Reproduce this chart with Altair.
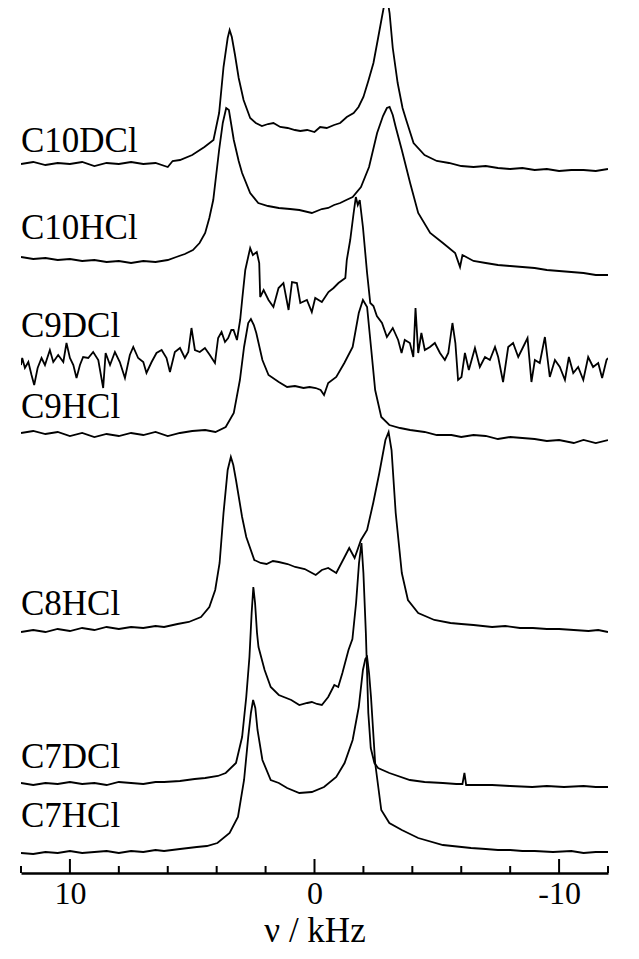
import altair as alt
import pandas as pd

# ---- spectra: frequency (kHz) and stacked intensity (arb. units) ----
C10DCl_x = [12.0, 11.5, 11.0, 10.5, 10.0, 9.5, 9.0, 8.5, 8.0, 7.5,
            7.0, 6.5, 6.0, 5.8, 5.5, 5.0, 4.5, 4.13, 3.9, 3.72,
            3.55, 3.47, 3.38, 3.25, 3.1, 2.9, 2.63, 2.4, 2.15, 1.9,
            1.68, 1.4, 1.1, 0.8, 0.58, 0.3, 0.0, -0.23, -0.5, -0.8,
            -1.05, -1.32, -1.6, -1.8, -2.0, -2.2, -2.41, -2.6, -2.75, -2.85,
            -2.95, -3.07, -3.2, -3.4, -3.6, -3.75, -4.05, -4.5, -5.0, -5.5,
            -6.0, -6.5, -7.0, -7.5, -8.0, -8.5, -9.0, -9.5, -10.0, -10.5,
            -11.0, -11.5, -12.0]
C10DCl_y = [709, 711, 708, 710, 709, 711, 707, 710, 709, 711,
            709, 710, 706, 712, 713, 718, 726, 733, 760, 806,
            835, 843, 836, 818, 795, 773, 755, 750, 747, 749,
            750, 746, 745, 743, 742, 743, 741, 746, 745, 748,
            750, 756, 760, 766, 776, 792, 810, 835, 855, 868,
            878, 860, 825, 790, 765, 753, 730, 718, 712, 710,
            707, 706, 707, 705, 704, 705, 703, 704, 702, 703,
            703, 702, 704]

C10HCl_x = [12.0, 11.5, 11.0, 10.5, 10.0, 9.5, 9.0, 8.5, 8.0, 7.5,
            7.0, 6.5, 6.0, 5.65, 5.3, 4.97, 4.7, 4.47, 4.3, 4.14,
            3.9, 3.75, 3.61, 3.5, 3.4, 3.3, 3.1, 2.96, 2.63, 2.3,
            1.9, 1.46, 1.0, 0.62, 0.11, -0.3, -0.56, -0.8, -1.05, -1.3,
            -1.56, -1.9, -2.23, -2.56, -2.8, -2.96, -3.07, -3.2, -3.32, -3.57,
            -3.91, -4.24, -4.73, -5.25, -5.75, -5.95, -6.05, -6.5, -7.0, -7.5,
            -8.0, -8.5, -9.0, -9.5, -10.0, -10.5, -11.0, -11.5, -12.0]
C10HCl_y = [616, 614, 615, 613, 614, 612, 613, 611, 612, 610,
            612, 611, 613, 616, 619, 623, 630, 640, 655, 673,
            723, 750, 765, 763, 748, 733, 712, 700, 680, 670,
            667, 665, 664, 663, 660, 664, 665, 668, 670, 673,
            676, 686, 706, 740, 757, 765, 766, 758, 746, 723,
            690, 660, 640, 630, 620, 606, 618, 612, 610, 608,
            607, 606, 605, 603, 602, 601, 600, 598, 598]

C9DCl_x_left = [12.0, 11.95, 11.84, 11.7, 11.57, 11.46, 11.32, 11.16, 11.02, 10.82,
                10.68, 10.48, 10.27, 10.14, 10.0, 9.86, 9.73, 9.59, 9.46, 9.25,
                9.05, 8.84, 8.64, 8.54, 8.36, 8.16, 7.96, 7.75, 7.55, 7.41,
                7.21, 7.0, 6.87, 6.66, 6.46, 6.25, 6.05, 5.91, 5.71, 5.5,
                5.3, 5.16, 5.03, 4.89, 4.69, 4.48, 4.28, 4.07, 3.94, 3.8,
                3.66, 3.53, 3.4, 3.31, 3.17, 3.04, 2.95, 2.83]
C9DCl_y_left = [508, 515, 505, 511, 498, 488, 505, 515, 508, 523,
                511, 518, 511, 530, 515, 508, 495, 508, 516, 515,
                521, 513, 485, 520, 508, 521, 511, 495, 518, 526,
                515, 511, 500, 511, 520, 523, 515, 501, 521, 525,
                515, 521, 545, 523, 521, 525, 518, 510, 535, 541,
                531, 535, 543, 543, 533, 553, 575, 603]
C9DCl_x_mid = [2.63, 2.52, 2.36, 2.26, 2.22, 2.08, 1.88, 1.68, 1.47, 1.27,
               1.06, 0.92, 0.72, 0.58, 0.31, 0.11, -0.03, -0.3, -0.57, -0.78,
               -0.98, -1.26, -1.32, -1.46, -1.6, -1.69, -1.77, -1.85, -1.98, -2.15,
               -2.28, -2.41, -2.55, -2.76, -2.96, -3.2]
C9DCl_y_mid = [625, 618, 621, 610, 576, 583, 573, 566, 585, 590,
               563, 591, 590, 570, 573, 561, 575, 571, 581, 585,
               590, 595, 613, 633, 660, 676, 668, 673, 646, 600,
               570, 567, 557, 550, 536, 545]
C9DCl_x_right = [-3.42, -3.56, -3.69, -3.9, -4.04, -4.13, -4.24, -4.37, -4.51, -4.72,
                 -4.92, -5.13, -5.33, -5.47, -5.64, -5.76, -5.87, -6.01, -6.15, -6.31,
                 -6.56, -6.76, -6.97, -7.17, -7.38, -7.51, -7.71, -7.92, -8.12, -8.33,
                 -8.53, -8.71, -8.87, -9.01, -9.21, -9.42, -9.62, -9.83, -10.03, -10.24,
                 -10.4, -10.58, -10.78, -10.99, -11.19, -11.39, -11.6, -11.76, -11.94, -12.0]
C9DCl_y_right = [533, 520, 533, 530, 516, 565, 520, 540, 523, 526,
                 530, 520, 513, 520, 550, 530, 493, 496, 520, 503,
                 525, 506, 516, 513, 526, 516, 491, 526, 530, 516,
                 526, 535, 491, 513, 510, 536, 496, 513, 506, 493,
                 516, 500, 506, 493, 516, 506, 510, 495, 513, 515]
C9DCl_x = C9DCl_x_left + C9DCl_x_mid + C9DCl_x_right
C9DCl_y = C9DCl_y_left + C9DCl_y_mid + C9DCl_y_right

C9HCl_x = [12.0, 11.5, 11.0, 10.5, 10.0, 9.5, 9.0, 8.5, 8.0, 7.5,
           7.0, 6.5, 6.0, 5.5, 5.0, 4.47, 4.05, 3.63, 3.30, 3.05,
           2.88, 2.71, 2.6, 2.48, 2.38, 2.13, 1.88, 1.46, 1.12, 0.8,
           0.45, 0.2, -0.05, -0.25, -0.39, -0.56, -0.89, -1.22, -1.56, -1.81,
           -1.98, -2.15, -2.31, -2.48, -2.73, -3.06, -3.5, -3.91, -4.5, -5.0,
           -5.6, -6.0, -6.5, -7.0, -7.5, -8.0, -8.5, -9.0, -9.5, -10.0,
           -10.6, -11.0, -11.5, -12.0]
C9HCl_y = [440, 442, 439, 441, 437, 440, 436, 439, 437, 440,
           438, 441, 437, 440, 442, 443, 441, 446, 460, 493,
           526, 550, 554, 548, 540, 513, 498, 491, 486, 487,
           485, 486, 485, 483, 478, 490, 496, 510, 526, 560,
           573, 566, 526, 483, 456, 448, 445, 443, 441, 438,
           438, 436, 438, 437, 434, 436, 435, 434, 432, 433,
           430, 433, 430, 433]

C8HCl_x = [12.0, 11.5, 11.0, 10.5, 10.0, 9.5, 9.0, 8.5, 8.0, 7.5,
           7.0, 6.5, 6.15, 5.6, 5.14, 4.64, 4.3, 4.06, 3.88, 3.72,
           3.55, 3.42, 3.32, 3.21, 2.96, 2.79, 2.46, 2.2, 1.96, 1.7,
           1.46, 1.1, 0.79, 0.4, 0.1, -0.05, -0.3, -0.56, -0.89, -1.23,
           -1.42, -1.64, -1.9, -2.15, -2.4, -2.65, -2.9, -3.03, -3.15, -3.32,
           -3.57, -3.82, -4.24, -4.9, -5.56, -6.0, -6.5, -7.26, -7.8, -8.4,
           -8.93, -9.5, -10.0, -10.6, -11.2, -11.6, -12.0]
C8HCl_y = [241, 243, 241, 244, 242, 245, 243, 246, 244, 246,
           245, 247, 246, 249, 251, 256, 266, 283, 310, 360,
           403, 416, 408, 393, 356, 336, 313, 310, 309, 312,
           311, 309, 306, 304, 300, 298, 303, 305, 300, 316,
           325, 315, 333, 343, 370, 400, 433, 441, 423, 360,
           300, 273, 260, 253, 250, 249, 248, 246, 247, 245,
           245, 244, 244, 243, 242, 243, 241]

C7DCl_x = [12.0, 11.5, 11.0, 10.5, 10.0, 9.5, 9.0, 8.5, 8.0, 7.5,
           7.0, 6.5, 6.15, 5.5, 4.9, 4.47, 3.95, 3.63, 3.21, 2.96,
           2.79, 2.66, 2.57, 2.5, 2.43, 2.35, 2.29, 2.04, 1.79, 1.46,
           0.95, 0.62, 0.3, 0.11, -0.1, -0.3, -0.56, -0.81, -0.97, -1.14,
           -1.39, -1.55, -1.7, -1.82, -1.92, -2.0, -2.1, -2.2, -2.3, -2.45,
           -2.6, -3.06, -3.9, -4.5, -5.25, -5.8, -6.05, -6.13, -6.2, -6.6,
           -7.26, -8.0, -8.9, -9.5, -10.2, -11.0, -11.5, -12.0]
C7DCl_y = [90, 88, 90, 89, 91, 89, 90, 88, 91, 90,
           89, 91, 91, 92, 94, 95, 97, 100, 110, 136,
           176, 216, 260, 286, 270, 240, 226, 203, 186, 178,
           173, 168, 170, 171, 169, 168, 176, 188, 186, 200,
           223, 234, 270, 310, 330, 300, 240, 160, 125, 110,
           105, 100, 93, 91, 90, 89, 89, 100, 88, 88,
           88, 87, 86, 87, 86, 87, 86, 86]

C7HCl_x = [12.0, 11.5, 11.0, 10.5, 10.0, 9.5, 9.0, 8.5, 8.0, 7.5,
           7.0, 6.5, 6.15, 5.5, 4.81, 4.4, 3.97, 3.47, 3.13, 2.88,
           2.71, 2.6, 2.51, 2.42, 2.33, 2.13, 1.79, 1.46, 1.12, 0.62,
           0.11, -0.39, -0.89, -1.23, -1.56, -1.81, -1.98, -2.08, -2.15, -2.23,
           -2.31, -2.48, -2.73, -3.06, -3.57, -4.24, -5.25, -6.4, -7.0, -7.5,
           -8.0, -8.5, -9.0, -9.75, -10.5, -11.0, -11.5, -12.0]
C7HCl_y = [20, 19, 21, 20, 22, 20, 21, 22, 20, 22,
           21, 23, 22, 24, 26, 27, 30, 40, 56, 93,
           136, 160, 173, 165, 143, 113, 93, 90, 85, 80,
           81, 86, 96, 110, 133, 166, 203, 214, 216, 200,
           176, 110, 63, 50, 43, 35, 28, 25, 24, 23,
           23, 22, 22, 21, 22, 20, 21, 21]

sample_names = ["C10DCl", "C10HCl", "C9DCl", "C9HCl", "C8HCl", "C7DCl", "C7HCl"]
label_levels = [721, 634, 536, 455, 258, 105, 46]

major_ticks = [10, 0, -10]
minor_ticks = [12, 8, 6, 4, 2, -2, -4, -6, -8, -12]

series = {
    "C10DCl": (C10DCl_x, C10DCl_y),
    "C10HCl": (C10HCl_x, C10HCl_y),
    "C9DCl": (C9DCl_x, C9DCl_y),
    "C9HCl": (C9HCl_x, C9HCl_y),
    "C8HCl": (C8HCl_x, C8HCl_y),
    "C7DCl": (C7DCl_x, C7DCl_y),
    "C7HCl": (C7HCl_x, C7HCl_y),
}
rows = []
for name, (xs, ys) in series.items():
    assert len(xs) == len(ys), name
    for i, (xv, yv) in enumerate(zip(xs, ys)):
        rows.append({"trace": name, "nu": xv, "I": yv, "k": i})
df = pd.DataFrame(rows)
labels_df = pd.DataFrame({"name": sample_names, "I": label_levels})
major_df = pd.DataFrame({"nu": major_ticks})
minor_df = pd.DataFrame({"nu": minor_ticks})

W, H = 587, 865
FONT = "Liberation Serif"
xscale = alt.Scale(domain=[12, -12], nice=False, zero=False)
yscale = alt.Scale(domain=[0, H], nice=False, zero=False)

x_axis = alt.Axis(values=major_ticks, labelExpr="datum.value", title="ν / kHz")

lines = alt.Chart(df).mark_line(color="black", strokeWidth=1.8, clip=True).encode(
    x=alt.X("nu:Q", scale=xscale, axis=x_axis),
    y=alt.Y("I:Q", scale=yscale, axis=None),
    detail="trace:N",
    order="k:Q",
)

major = alt.Chart(major_df).mark_rule(color="black", strokeWidth=2).encode(
    x=alt.X("nu:Q", scale=xscale, axis=x_axis),
    y=alt.value(H - 14), y2=alt.value(H),
)
minor = alt.Chart(minor_df).mark_rule(color="black", strokeWidth=2).encode(
    x=alt.X("nu:Q", scale=xscale, axis=x_axis),
    y=alt.value(H - 7), y2=alt.value(H),
)

labels = alt.Chart(labels_df).mark_text(
    align="left", baseline="alphabetic", font=FONT, fontSize=35, color="black"
).encode(
    x=alt.value(0),
    y=alt.Y("I:Q", scale=yscale, axis=None),
    text="name:N",
)

chart = alt.layer(lines, major, minor, labels).properties(
    width=W, height=H,
    padding={"left": 12, "top": 0, "right": 4, "bottom": 0},
).configure_view(stroke=None).configure_axis(
    ticks=False, grid=False,
    domainWidth=2.5, domainColor="black",
    labelFont=FONT, labelFontSize=32, labelColor="black",
    labelPadding=5, labelFlush=False,
    titleFont=FONT, titleFontSize=35, titleFontWeight="normal",
    titleColor="black", titlePadding=4,
)

chart.save("out.html", embed_options={"renderer": "svg", "actions": False})
